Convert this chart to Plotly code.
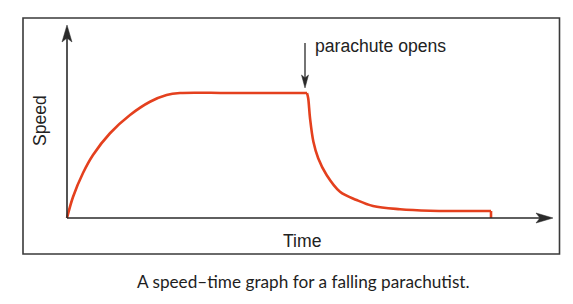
import plotly.graph_objects as go

# Data (time in arbitrary units, speed in arbitrary units)
time = [0, 1.5, 4, 6.5, 10.75, 15.75, 20.75, 24.9, 28.25, 40, 50, 60,
        60.3, 60.75, 61.6, 62.8, 64.9, 68.25, 72.4, 76.5, 83.25, 90.75, 98, 106, 106]
speed = [0, 8.4, 18, 25.2, 33.9, 41.2, 46.5, 49.2, 50, 50, 50, 50,
         47.9, 40, 30.5, 23.9, 17.2, 10.5, 7.2, 4.8, 3.5, 2.9, 2.8, 2.8, 0]

x_label = "Time"
y_label = "Speed"
note = "parachute opens"
note_time = 59.5
caption = "A speed\u2013time graph for a falling parachutist."

W, H = 573, 304
OX, OY = 67, 218        # pixel origin
SX, SY = 4.0, 2.5       # pixels per unit

def px(x):
    return x / W

def py(y):
    return 1 - y / H

red = "#e4401e"
fig = go.Figure()
# segments: rise + plateau, drop after opening, final stop
i_open = time.index(60)
segs = [(0, i_open + 1), (i_open, len(time) - 1), (len(time) - 2, len(time))]
for a, b in segs:
    fig.add_trace(go.Scatter(x=time[a:b], y=speed[a:b], mode="lines",
                             line=dict(color=red, width=2.6, shape="spline", smoothing=1.0),
                             hoverinfo="skip", showlegend=False))

ink = "#2a2a2a"
shapes = []
# outer frame
shapes.append(dict(type="rect", xref="paper", yref="paper",
                   x0=px(23), x1=px(559.5), y0=py(254), y1=py(18),
                   line=dict(color="#3a3a3a", width=1.6)))
# axes lines
shapes.append(dict(type="line", xref="paper", yref="paper",
                   x0=px(OX), x1=px(540), y0=py(OY), y1=py(OY),
                   line=dict(color=ink, width=1.6)))
shapes.append(dict(type="line", xref="paper", yref="paper",
                   x0=px(OX), x1=px(OX), y0=py(OY), y1=py(38),
                   line=dict(color=ink, width=1.6)))

def path(points):
    s = "M " + " L ".join(f"{px(a):.5f},{py(b):.5f}" for a, b in points) + " Z"
    return s

# x-axis arrowhead
shapes.append(dict(type="path", xref="paper", yref="paper",
                   path=path([(553, OY), (536, OY - 5), (540, OY), (536, OY + 5)]),
                   fillcolor=ink, line=dict(color=ink, width=0.5)))
# y-axis arrowhead
shapes.append(dict(type="path", xref="paper", yref="paper",
                   path=path([(OX, 25), (OX - 5, 42), (OX, 38), (OX + 5, 42)]),
                   fillcolor=ink, line=dict(color=ink, width=0.5)))

# parachute arrow (in data coords)
tip_speed = 52
tail_speed = 70
shapes.append(dict(type="line", xref="x", yref="y",
                   x0=note_time, x1=note_time, y0=tail_speed, y1=tip_speed + 4,
                   line=dict(color=ink, width=1.3)))
tx = OX + note_time * SX
ty = OY - tip_speed * SY
shapes.append(dict(type="path", xref="paper", yref="paper",
                   path=path([(tx, ty), (tx - 3.5, ty - 13), (tx, ty - 10), (tx + 3.5, ty - 13)]),
                   fillcolor=ink, line=dict(color=ink, width=0.5)))

annotations = [
    dict(text=note, xref="paper", yref="paper", x=px(313), y=py(46),
         xanchor="left", yanchor="middle", showarrow=False,
         font=dict(family="Liberation Sans, Arial", size=17.6, color="#222")),
    dict(text=y_label, xref="paper", yref="paper", x=px(40), y=py(121),
         xanchor="center", yanchor="middle", showarrow=False, textangle=-90,
         font=dict(family="Liberation Sans, Arial", size=17.6, color="#222")),
    dict(text=x_label, xref="paper", yref="paper", x=px(302), y=py(241),
         xanchor="center", yanchor="middle", showarrow=False,
         font=dict(family="Liberation Sans, Arial", size=17.6, color="#222")),
    dict(text=caption, xref="paper", yref="paper", x=px(135), y=py(281),
         xanchor="left", yanchor="middle", showarrow=False,
         font=dict(family="Lato, Open Sans", size=17.2, color="#1e1e1e")),
]

fig.update_layout(
    width=W, height=H, margin=dict(l=0, r=0, t=0, b=0),
    paper_bgcolor="white", plot_bgcolor="white",
    xaxis=dict(range=[-OX / SX, (W - OX) / SX], visible=False, fixedrange=True),
    yaxis=dict(range=[-(H - OY) / SY, OY / SY], visible=False, fixedrange=True),
    shapes=shapes, annotations=annotations,
)

fig.write_html("out.html")
